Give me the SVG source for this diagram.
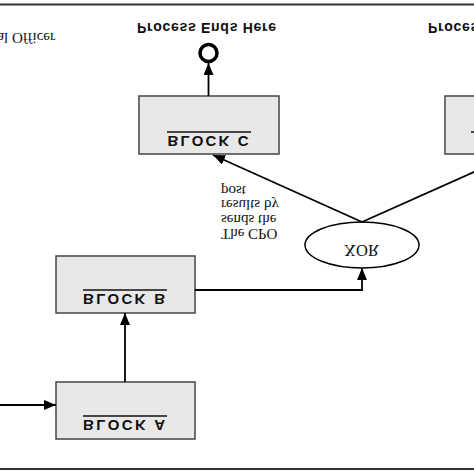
<svg xmlns="http://www.w3.org/2000/svg" width="474" height="474" viewBox="0 0 474 474">
<style>
.blk{fill:#e8e8e8;stroke:#444;stroke-width:1.5}
.bt{font-family:"Liberation Sans",Arial,sans-serif;font-weight:bold;font-size:15px;fill:#111}
.pt{font-family:"Liberation Sans",Arial,sans-serif;font-weight:bold;font-size:14px;fill:#111}
.st{font-family:"Liberation Serif","Times New Roman",serif;font-size:15px;fill:#111}
.xt{font-family:"Liberation Serif","Times New Roman",serif;font-size:16.5px;fill:#111}
.ul{stroke:#111;stroke-width:1.5}
.cn{stroke:#000;stroke-width:1.8;fill:none}
.frame{stroke:#333;stroke-width:2}
</style>
<defs>
<marker id="ah" viewBox="0 0 12 10" refX="12" refY="5" markerWidth="12" markerHeight="10" orient="auto" markerUnits="userSpaceOnUse"><path d="M0,0 L12,5 L0,10 z" fill="#000"/></marker>
</defs>
<rect width="474" height="474" fill="#fff"/>
<line class="frame" x1="0" y1="4.5" x2="474" y2="4.5"/>
<line class="frame" x1="0" y1="469" x2="474" y2="469"/>

<g id="officer-label">
<text class="st" text-anchor="end" transform="translate(55,33) scale(1,-1)">al Officer</text>
</g>

<g id="end-c">
<circle cx="208.5" cy="53" r="8.5" fill="#fff" stroke="#000" stroke-width="3.5"/>
<text class="pt" text-anchor="middle" textLength="139" lengthAdjust="spacing" transform="translate(206.5,23) scale(1,-1)">Process Ends Here</text>
</g>

<g id="end-d">
<text class="pt" textLength="139" lengthAdjust="spacing" transform="translate(428,23) scale(1,-1)">Process Ends Here</text>
</g>

<g id="block-c">
<rect class="blk" x="139" y="96" width="140" height="58"/>
<line class="ul" x1="167" y1="132" x2="251" y2="132"/>
<text class="bt" text-anchor="middle" textLength="81" lengthAdjust="spacing" transform="translate(208,136) scale(1,-1)">BLOCK C</text>
</g>

<g id="block-d">
<rect class="blk" x="445" y="96" width="40" height="58"/>
<line class="ul" x1="471" y1="132" x2="474" y2="132" stroke="#999"/>
</g>

<g id="cpo-label">
<text class="st" transform="translate(221,229) scale(1,-1)"><tspan x="0" y="0">The CPO</tspan><tspan x="0" y="14.5">sends the</tspan><tspan x="0" y="29">results by</tspan><tspan x="0" y="43.5">post</tspan></text>
</g>

<g id="xor">
<ellipse cx="362" cy="245" rx="57" ry="23" fill="#fff" stroke="#000" stroke-width="1.5"/>
<text class="xt" text-anchor="middle" transform="translate(361.5,245) scale(1,-1)">XOR</text>
</g>

<g id="block-b">
<rect class="blk" x="56" y="256" width="139" height="57"/>
<line class="ul" x1="83" y1="290" x2="167" y2="290"/>
<text class="bt" text-anchor="middle" textLength="82" lengthAdjust="spacing" transform="translate(124,294) scale(1,-1)">BLOCK B</text>
</g>

<g id="block-a">
<rect class="blk" x="56" y="382" width="139" height="57"/>
<line class="ul" x1="83" y1="416" x2="167" y2="416"/>
<text class="bt" text-anchor="middle" textLength="82" lengthAdjust="spacing" transform="translate(124,420) scale(1,-1)">BLOCK A</text>
</g>

<g id="connectors">
<line class="cn" x1="0" y1="405" x2="56" y2="405" marker-end="url(#ah)"/>
<line class="cn" x1="125" y1="382" x2="125" y2="313" marker-end="url(#ah)"/>
<path class="cn" d="M195,290 H362 V268" marker-end="url(#ah)"/>
<line class="cn" x1="362" y1="222" x2="213" y2="155" marker-end="url(#ah)"/>
<line class="cn" x1="362" y1="222" x2="476" y2="171"/>
<line class="cn" x1="208.5" y1="96" x2="208.5" y2="63" marker-end="url(#ah)"/>
</g>
</svg>
